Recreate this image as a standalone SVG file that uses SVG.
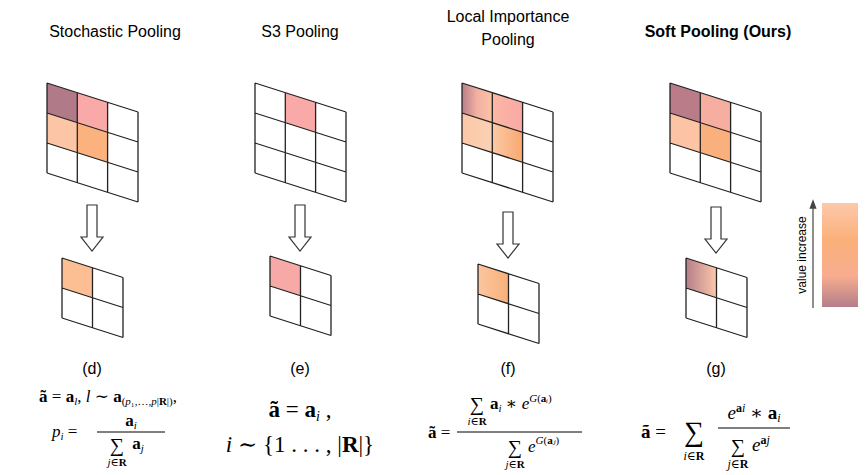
<svg xmlns="http://www.w3.org/2000/svg" width="867" height="475" viewBox="0 0 867 475">
<style>
.t{font-family:"Liberation Sans",Arial,sans-serif;font-size:16px;fill:#000;text-anchor:middle}
.m{font-family:"Liberation Serif","DejaVu Serif",serif;fill:#000}
.b{font-weight:bold}
.i{font-style:italic}
.g{fill:none;stroke:#222;stroke-width:1.3}
.ar{fill:#fff;stroke:#333;stroke-width:1.2}
</style>
<defs>
<g id="big">
<path class="g" d="M0,0 L91,29 M0,30 L91,59 M0,60 L91,89 M0,90 L91,119 M0,0 V90 M30.3,9.7 V99.7 M60.6,19.3 V109.3 M91,29 V119"/>
</g>
<g id="small">
<path class="g" d="M0,0 L61,19.5 M0,30 L61,49.5 M0,60 L61,79.5 M0,0 V60 M30.5,9.75 V69.75 M61,19.5 V79.5"/>
</g>
<path id="arw" class="ar" d="M-5,0 H5 V32 H11 L0,46 L-11,32 H-5 Z"/>
<linearGradient id="lip1" x1="0" x2="1"><stop offset="0" stop-color="#b98088"/><stop offset="0.5" stop-color="#f3b0a4"/><stop offset="1" stop-color="#fbc3a3"/></linearGradient>
<linearGradient id="lip2" x1="0" x2="1"><stop offset="0" stop-color="#fbb7a5"/><stop offset="1" stop-color="#f9a9a6"/></linearGradient>
<linearGradient id="lip3" x1="0" x2="1"><stop offset="0" stop-color="#fcc8a8"/><stop offset="1" stop-color="#fbd1b4"/></linearGradient>
<linearGradient id="lip4" x1="0" x2="1"><stop offset="0" stop-color="#fbcaa6"/><stop offset="1" stop-color="#f9a870"/></linearGradient>
<linearGradient id="lips" x1="0" x2="1"><stop offset="0" stop-color="#fcc6a0"/><stop offset="1" stop-color="#f9b07a"/></linearGradient>
<linearGradient id="softs" x1="0" x2="1"><stop offset="0" stop-color="#b47e8a"/><stop offset="1" stop-color="#fcc8aa"/></linearGradient>
<linearGradient id="bar" x1="0" y1="0" x2="0" y2="1"><stop offset="0" stop-color="#fdc8ab"/><stop offset="0.35" stop-color="#fbb07a"/><stop offset="0.7" stop-color="#f7ad8e"/><stop offset="1" stop-color="#b47e8a"/></linearGradient>
<marker id="ah" markerWidth="8" markerHeight="8" refX="4" refY="4" orient="auto"><path d="M0,1 L8,4 L0,7 Z" fill="#444"/></marker>
</defs>

<g id="titles">
<text class="t" x="115" y="37">Stochastic Pooling</text>
<text class="t" x="300" y="37">S3 Pooling</text>
<text class="t" x="508" y="22">Local Importance</text>
<text class="t" x="508" y="45">Pooling</text>
<text class="t b" x="718" y="37">Soft Pooling (Ours)</text>
</g>

<g id="stochastic" transform="translate(47,83)">
<path fill="#b07a88" d="M0,0 L30.3,9.7 V39.7 L0,30 Z"/>
<path fill="#f9aaa8" d="M30.3,9.7 L60.6,19.3 V49.3 L30.3,39.7 Z"/>
<path fill="#fcc6a6" d="M0,30 L30.3,39.7 V69.7 L0,60 Z"/>
<path fill="#fbb27e" d="M30.3,39.7 L60.6,49.3 V79.3 L30.3,69.7 Z"/>
<use href="#big"/>
</g>
<g id="s3" transform="translate(255,83)">
<path fill="#f9aaa8" d="M30.3,9.7 L60.6,19.3 V49.3 L30.3,39.7 Z"/>
<use href="#big"/>
</g>
<g id="lip" transform="translate(462,83)">
<path fill="url(#lip1)" d="M0,0 L30.3,9.7 V39.7 L0,30 Z"/>
<path fill="url(#lip2)" d="M30.3,9.7 L60.6,19.3 V49.3 L30.3,39.7 Z"/>
<path fill="url(#lip3)" d="M0,30 L30.3,39.7 V69.7 L0,60 Z"/>
<path fill="url(#lip4)" d="M30.3,39.7 L60.6,49.3 V79.3 L30.3,69.7 Z"/>
<use href="#big"/>
</g>
<g id="soft" transform="translate(670,83)">
<path fill="#b97c88" d="M0,0 L30.3,9.7 V39.7 L0,30 Z"/>
<path fill="#f6aea0" d="M30.3,9.7 L60.6,19.3 V49.3 L30.3,39.7 Z"/>
<path fill="#fcc4a4" d="M0,30 L30.3,39.7 V69.7 L0,60 Z"/>
<path fill="#fab07c" d="M30.3,39.7 L60.6,49.3 V79.3 L30.3,69.7 Z"/>
<use href="#big"/>
</g>

<g id="connectors">
<use href="#arw" x="92" y="205"/>
<use href="#arw" x="300" y="205"/>
<use href="#arw" x="508" y="212"/>
<use href="#arw" x="716" y="207"/>
<line x1="813" y1="308" x2="813" y2="204" stroke="#444" stroke-width="1.2" marker-end="url(#ah)"/>
</g>

<g id="stochastic-out" transform="translate(62,258)">
<path fill="#fcbf94" d="M0,0 L30.5,9.75 V39.75 L0,30 Z"/>
<use href="#small"/>
</g>
<g id="s3-out" transform="translate(270,256)">
<path fill="#f7a9a8" d="M0,0 L30.5,9.75 V39.75 L0,30 Z"/>
<use href="#small"/>
</g>
<g id="lip-out" transform="translate(478,264)">
<path fill="url(#lips)" d="M0,0 L30.5,9.75 V39.75 L0,30 Z"/>
<use href="#small"/>
</g>
<g id="soft-out" transform="translate(686,258)">
<path fill="url(#softs)" d="M0,0 L30.5,9.75 V39.75 L0,30 Z"/>
<use href="#small"/>
</g>

<g id="colorbar">
<rect x="822" y="203" width="36" height="104" fill="url(#bar)"/>
<text class="t" transform="translate(806,255) rotate(-90)" style="font-size:12px">value increase</text>
</g>

<g id="labels">
<text class="t" x="92" y="374">(d)</text>
<text class="t" x="300" y="374">(e)</text>
<text class="t" x="508" y="374">(f)</text>
<text class="t" x="716" y="374">(g)</text>
</g>

<g id="eq-d" class="m" font-size="17">
<text x="108" y="402" text-anchor="middle"><tspan class="b">ã</tspan> = <tspan class="b">a</tspan><tspan class="i" font-size="11" dy="3">l</tspan><tspan dy="-3">,  </tspan><tspan class="i">l</tspan> ∼ <tspan class="b">a</tspan><tspan font-size="11" dy="3">(<tspan class="i">p</tspan>₁,…,<tspan class="i">p</tspan>|<tspan class="b">R</tspan>|)</tspan><tspan dy="-3">,</tspan></text>
<text x="52" y="437" class="i">p<tspan font-size="11" dy="3">i</tspan><tspan dy="-3" font-style="normal"> =</tspan></text>
<text x="131" y="426" text-anchor="middle"><tspan class="b">a</tspan><tspan class="i" font-size="11" dy="3">i</tspan></text>
<line x1="97" y1="432" x2="165" y2="432" stroke="#000" stroke-width="1"/>
<text x="117" y="452" text-anchor="middle" font-size="20">∑</text>
<text x="138" y="449" text-anchor="middle"><tspan class="b">a</tspan><tspan class="i" font-size="11" dy="3">j</tspan></text>
<text x="117" y="466" text-anchor="middle" font-size="11"><tspan class="i">j</tspan>∈<tspan class="b">R</tspan></text>
</g>

<g id="eq-e" class="m" font-size="23">
<text x="300" y="417" text-anchor="middle"><tspan class="b">ã</tspan> = <tspan class="b">a</tspan><tspan class="i" font-size="14" dy="4">i</tspan><tspan dy="-4"> ,</tspan></text>
<text x="300" y="452" text-anchor="middle"><tspan class="i">i</tspan> ∼ {1 . . . , |<tspan class="b">R</tspan>|}</text>
</g>

<g id="eq-f" class="m" font-size="17">
<text x="428" y="438"><tspan class="b">ã</tspan> =</text>
<text x="477" y="411" text-anchor="middle" font-size="20">∑</text>
<text x="477" y="425" text-anchor="middle" font-size="11"><tspan class="i">i</tspan>∈<tspan class="b">R</tspan></text>
<text x="490" y="409"><tspan class="b">a</tspan><tspan class="i" font-size="11" dy="3">i</tspan><tspan dy="-3"> ∗ </tspan><tspan class="i">e</tspan><tspan font-size="11" dy="-7"><tspan class="i">G</tspan>(<tspan class="b">a</tspan><tspan class="i">ᵢ</tspan>)</tspan></text>
<line x1="457" y1="432" x2="582" y2="432" stroke="#000" stroke-width="1"/>
<text x="515" y="454" text-anchor="middle" font-size="20">∑</text>
<text x="515" y="468" text-anchor="middle" font-size="11"><tspan class="i">j</tspan>∈<tspan class="b">R</tspan></text>
<text x="528" y="452" class="i">e<tspan font-size="11" dy="-8">G<tspan font-style="normal">(</tspan><tspan class="b" font-style="normal">a</tspan>ⱼ<tspan font-style="normal">)</tspan></tspan></text>
</g>

<g id="eq-g" class="m" font-size="19">
<text x="641" y="438"><tspan class="b">ã</tspan> =</text>
<text x="694" y="441" text-anchor="middle" font-size="28">∑</text>
<text x="694" y="460" text-anchor="middle" font-size="12"><tspan class="i">i</tspan>∈<tspan class="b">R</tspan></text>
<text x="754" y="419" text-anchor="middle"><tspan class="i">e</tspan><tspan font-size="12" dy="-7"><tspan class="b">a</tspan><tspan class="i">i</tspan></tspan><tspan dy="7"> ∗ </tspan><tspan class="b">a</tspan><tspan class="i" font-size="12" dy="3">i</tspan></text>
<line x1="718" y1="428" x2="790" y2="428" stroke="#000" stroke-width="1"/>
<text x="738" y="453" text-anchor="middle" font-size="20">∑</text>
<text x="738" y="468" text-anchor="middle" font-size="12"><tspan class="i">j</tspan>∈<tspan class="b">R</tspan></text>
<text x="752" y="451" class="i">e<tspan font-size="12" dy="-7" font-style="normal"><tspan class="b">a</tspan><tspan class="i">j</tspan></tspan></text>
</g>
</svg>
